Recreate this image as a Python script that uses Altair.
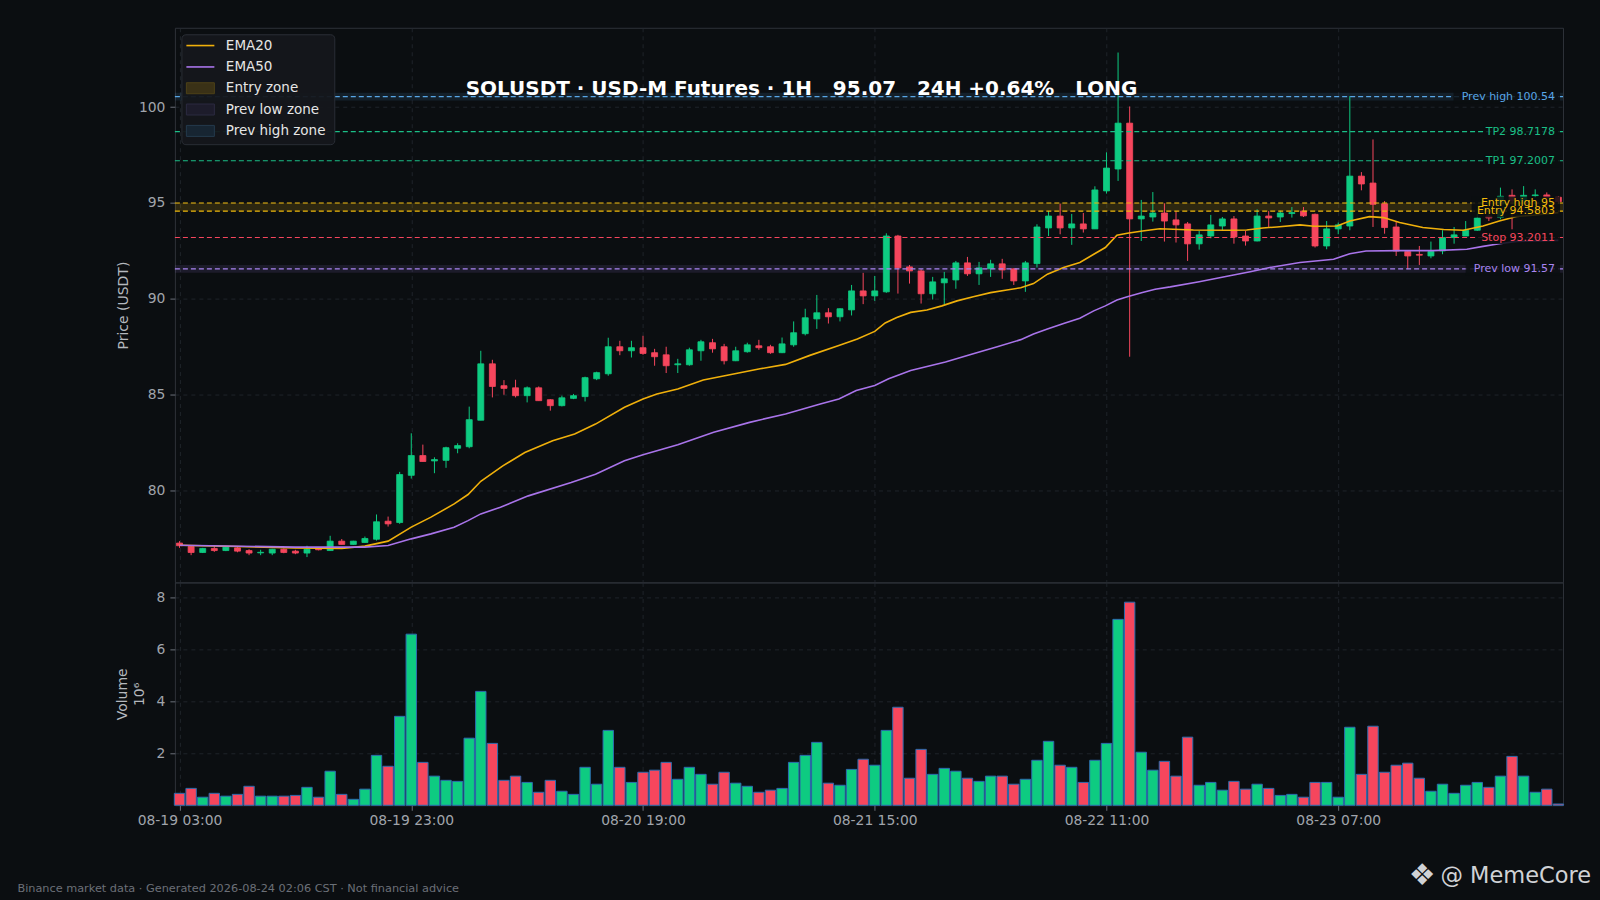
import altair as alt
import pandas as pd
import jinja2

# ---------------- data ----------------
hours = list(range(120))  # hours since 08-19 03:00
opens = [77.28, 77.10, 76.79, 77.00, 76.89, 77.03, 76.89, 76.77, 76.76, 76.96,
         76.86, 76.76, 76.98, 76.89, 77.38, 77.21, 77.31, 77.48, 78.42, 78.35,
         80.81, 81.84, 81.56, 81.59, 82.22, 82.30, 83.68, 86.62, 85.48, 85.37,
         84.96, 85.37, 84.75, 84.44, 84.82, 84.91, 85.84, 86.10, 87.51, 87.30,
         87.46, 87.20, 87.09, 86.57, 86.57, 87.30, 87.72, 87.51, 86.78, 87.25,
         87.56, 87.51, 87.20, 87.61, 88.19, 88.96, 89.28, 89.07, 89.43, 90.42,
         90.16, 90.37, 93.28, 91.67, 91.46, 90.27, 90.84, 90.99, 91.88, 91.31,
         91.57, 91.83, 91.57, 90.94, 91.84, 93.70, 94.32, 93.70, 93.91, 93.65,
         95.63, 96.77, 99.16, 94.17, 94.27, 94.48, 94.12, 93.91, 92.87, 93.28,
         93.80, 94.17, 93.28, 93.02, 94.32, 94.27, 94.45, 94.58, 94.41, 92.76,
         93.65, 93.80, 96.40, 96.04, 94.96, 93.75, 92.47, 92.32, 92.24, 92.50,
         93.20, 93.28, 93.58, 94.32, 94.25, 95.40, 95.10, 95.38, 95.42, 95.30]
highs = [77.38, 77.14, 77.03, 77.14, 77.14, 77.07, 76.96, 76.93, 76.98, 77.00,
         76.93, 77.14, 77.02, 77.66, 77.49, 77.40, 77.62, 78.77, 78.66, 80.99,
         83.00, 82.41, 81.75, 82.30, 82.48, 84.39, 87.30, 86.83, 85.77, 85.79,
         85.44, 85.44, 84.78, 84.96, 85.05, 85.95, 86.21, 87.98, 87.82, 87.82,
         88.08, 87.40, 87.51, 86.88, 87.46, 87.87, 87.92, 87.66, 87.51, 87.72,
         87.87, 87.61, 87.99, 88.83, 89.49, 90.21, 89.52, 89.51, 90.73, 91.36,
         91.20, 93.42, 93.34, 91.77, 91.55, 91.15, 91.41, 91.98, 92.19, 91.93,
         92.04, 92.09, 91.60, 91.98, 93.89, 94.58, 94.96, 94.43, 94.48, 95.87,
         97.64, 102.84, 100.03, 95.16, 95.57, 94.98, 94.58, 94.01, 93.54, 94.38,
         94.27, 94.32, 93.54, 94.67, 94.58, 94.60, 94.79, 94.79, 94.45, 94.06,
         93.98, 100.57, 96.61, 98.31, 95.10, 94.03, 92.50, 92.76, 92.99, 93.58,
         93.75, 94.06, 94.45, 94.40, 95.80, 95.71, 95.88, 95.71, 95.55, 95.35]
lows = [77.03, 76.65, 76.76, 76.82, 76.86, 76.80, 76.65, 76.65, 76.65, 76.75,
        76.70, 76.55, 76.90, 76.89, 77.21, 77.19, 77.30, 77.41, 78.14, 78.28,
        80.64, 81.53, 80.92, 81.20, 81.96, 82.22, 83.68, 84.87, 85.01, 84.87,
        84.61, 84.70, 84.18, 84.40, 84.78, 84.66, 85.77, 86.00, 87.07, 86.95,
        87.09, 86.52, 86.14, 86.14, 86.52, 86.78, 87.20, 86.59, 86.76, 87.20,
        87.35, 87.14, 87.18, 87.51, 88.10, 88.44, 88.72, 88.83, 89.14, 89.73,
        89.90, 90.32, 90.28, 90.80, 89.76, 89.97, 89.73, 90.53, 91.20, 90.73,
        91.15, 91.05, 90.73, 90.37, 91.64, 93.28, 93.37, 92.82, 93.46, 93.65,
        95.49, 96.15, 86.99, 93.02, 94.03, 92.99, 92.94, 91.98, 92.57, 93.16,
        93.58, 92.88, 92.78, 93.00, 93.75, 94.01, 94.24, 94.27, 92.68, 92.59,
        93.37, 93.58, 95.66, 93.75, 93.40, 92.24, 91.55, 91.77, 92.12, 92.33,
        92.88, 93.28, 93.55, 94.06, 94.15, 93.63, 94.93, 95.28, 95.19, 94.95]
closes = [77.14, 76.79, 77.00, 76.89, 77.07, 76.86, 76.76, 76.80, 76.96, 76.79,
          76.76, 76.96, 76.93, 77.38, 77.21, 77.38, 77.52, 78.39, 78.28, 80.85,
          81.84, 81.53, 81.63, 82.25, 82.36, 83.71, 86.62, 85.44, 85.34, 84.96,
          85.37, 84.70, 84.44, 84.85, 84.96, 85.90, 86.16, 87.51, 87.30, 87.46,
          87.16, 86.99, 86.52, 86.62, 87.35, 87.77, 87.40, 86.78, 87.30, 87.61,
          87.46, 87.20, 87.66, 88.24, 89.02, 89.28, 89.07, 89.49, 90.42, 90.16,
          90.42, 93.28, 91.62, 91.46, 90.27, 90.89, 91.05, 91.88, 91.31, 91.62,
          91.83, 91.51, 90.94, 91.88, 93.75, 94.32, 93.70, 93.91, 93.65, 95.68,
          96.82, 99.16, 94.17, 94.32, 94.48, 94.06, 93.86, 92.87, 93.34, 93.86,
          94.17, 93.23, 93.02, 94.32, 94.22, 94.48, 94.50, 94.33, 92.76, 93.65,
          93.86, 96.40, 95.99, 94.93, 93.72, 92.50, 92.24, 92.28, 92.47, 93.20,
          93.34, 93.58, 94.22, 94.22, 95.35, 95.10, 95.40, 95.42, 95.30, 95.07]
volumes_m = [0.46, 0.65, 0.31, 0.46, 0.35, 0.42, 0.73, 0.35, 0.35, 0.35,
             0.38, 0.69, 0.31, 1.31, 0.42, 0.23, 0.62, 1.92, 1.50, 3.42,
             6.58, 1.65, 1.12, 0.96, 0.92, 2.58, 4.38, 2.38, 0.96, 1.12,
             0.88, 0.50, 0.96, 0.54, 0.42, 1.46, 0.81, 2.88, 1.46, 0.88,
             1.27, 1.35, 1.65, 1.00, 1.46, 1.19, 0.81, 1.27, 0.85, 0.73,
             0.50, 0.58, 0.65, 1.65, 1.92, 2.42, 0.85, 0.77, 1.38, 1.77,
             1.54, 2.88, 3.77, 1.04, 2.15, 1.19, 1.42, 1.31, 1.04, 0.92,
             1.12, 1.12, 0.81, 1.00, 1.73, 2.46, 1.54, 1.46, 0.88, 1.73,
             2.38, 7.15, 7.81, 2.04, 1.35, 1.69, 1.12, 2.62, 0.77, 0.88,
             0.58, 0.92, 0.62, 0.81, 0.65, 0.38, 0.42, 0.31, 0.88, 0.88,
             0.31, 3.00, 1.19, 3.04, 1.27, 1.54, 1.62, 1.04, 0.54, 0.81,
             0.46, 0.77, 0.88, 0.69, 1.12, 1.88, 1.12, 0.50, 0.62, 0.05]

tick_hours = [0, 20, 40, 60, 80, 100]
tick_labels = ["08-19 03:00", "08-19 23:00", "08-20 19:00",
               "08-21 15:00", "08-22 11:00", "08-23 07:00"]

ema20_hours = [0, 5, 10, 14, 16, 18, 20, 21.7, 23.7, 24.9, 26, 27.9, 29.8, 32.2, 34.1,
               35.9, 38.4, 40, 41.2, 43, 45.2, 47.6, 50.1, 52.3, 54.4, 56.9, 58.5, 60,
               60.9, 61.9, 63.1, 64.5, 65.8, 67.1, 68.5, 70, 71.4, 72.6, 73.7, 74.9,
               76.3, 77.7, 78.9, 79.9, 80.9, 81.8, 83.1, 84.6, 87.5, 90.4, 92.1, 93.5,
               94.7, 96.7, 97.9, 99.9, 101, 102.7, 103.9, 105.3, 107.3, 109.1, 110.8,
               112.5, 113.9, 115.4, 116.8, 119]
ema20_values = [77.17, 77.10, 77.02, 77.00, 77.12, 77.38, 78.11, 78.63, 79.32, 79.81,
                80.50, 81.30, 82.00, 82.61, 82.96, 83.48, 84.36, 84.79, 85.05, 85.31,
                85.78, 86.06, 86.36, 86.59, 87.06, 87.58, 87.91, 88.31, 88.75, 89.03,
                89.30, 89.42, 89.64, 89.90, 90.11, 90.33, 90.47, 90.58, 90.80, 91.29,
                91.64, 91.90, 92.33, 92.68, 93.32, 93.42, 93.54, 93.66, 93.59, 93.58,
                93.59, 93.70, 93.75, 93.86, 93.79, 93.80, 94.06, 94.29, 94.24, 93.98,
                93.72, 93.62, 93.58, 93.80, 94.06, 94.30, 94.36, 94.50]
ema50_hours = [0, 10, 16, 18, 20, 21.7, 23.7, 24.9, 26, 27.7, 30.1, 33.8, 35.9, 38.4,
               40, 43, 46.1, 49.2, 52.3, 55.3, 56.9, 58.4, 60, 61.2, 63.1, 66.1, 68.5,
               70.5, 72.6, 73.7, 74.9, 76.3, 77.7, 78.9, 79.9, 80.9, 81.8, 83.1, 84.2,
               85.5, 88, 90.3, 92.4, 94.1, 96.7, 99.6, 101, 102.4, 105.3, 108.2, 111.1,
               112.5, 113.9, 115.4, 119]
ema50_values = [77.17, 77.07, 77.07, 77.15, 77.50, 77.76, 78.11, 78.45, 78.80, 79.15,
                79.74, 80.44, 80.87, 81.57, 81.88, 82.40, 83.05, 83.57, 84.01, 84.53,
                84.79, 85.23, 85.49, 85.84, 86.27, 86.71, 87.15, 87.50, 87.88, 88.17,
                88.43, 88.72, 89.00, 89.38, 89.64, 89.94, 90.11, 90.34, 90.51, 90.63,
                90.90, 91.17, 91.42, 91.64, 91.90, 92.07, 92.36, 92.50, 92.52, 92.52,
                92.59, 92.74, 92.88, 93.00, 93.05]

level_labels = ["Prev high 100.54", "TP2 98.7178", "TP1 97.2007", "Entry high 95",
                "Entry 94.5803", "Stop 93.2011", "Prev low 91.57"]
level_values = [100.54, 98.7178, 97.2007, 95.0, 94.5803, 93.2011, 91.57]

zone_names = ["Entry zone", "Prev low zone", "Prev high zone"]
zone_low = [94.5803, 91.37, 100.34]
zone_high = [95.0, 91.77, 100.74]

legend_labels = ["EMA20", "EMA50", "Entry zone", "Prev low zone", "Prev high zone"]

NB = "\u00a0"
title_text = f"SOLUSDT · USD-M Futures · 1H{NB}{NB} 95.07{NB}{NB} 24H +0.64%{NB}{NB} LONG"
footer_text = "Binance market data · Generated 2026-08-24 02:06 CST · Not financial advice"
brand_text = "@ MemeCore"
brand_icon = "\u2756"

# ---------------- style ----------------
BG = "#0b0e11"
UP = "#0ecb81"
DOWN = "#f6465d"
EMA20_C = "#f0b00b"
EMA50_C = "#a974ea"
level_colors = ["#58a6e6", "#1bbf87", "#1bbf87", "#f0b90b", "#f0b90b", "#f6465d", "#a985f2"]
zone_colors = ["#f0b90b", "#a985f2", "#58a6e6"]
zone_opac = [0.15, 0.11, 0.12]
legend_swatch_fill = ["#3a3116", "#1d1c2b", "#172532"]
legend_swatch_edge = ["#4d4118", "#2b2a40", "#243a4c"]
FONT = "DejaVu Sans"

W = 1389
H1 = 555
H2 = 223

# ---------------- build ----------------
df = pd.DataFrame({"h": hours, "o": opens, "hi": highs, "lo": lows, "c": closes, "vol": volumes_m})
df["dir"] = ["up" if c >= o else "down" for o, c in zip(opens, closes)]

xscale = alt.Scale(domain=[-0.4, 119.4], nice=False, zero=False, padding=0)
yscale = alt.Scale(domain=[75.23, 104.13], nice=False, zero=False, padding=0)
vscale = alt.Scale(domain=[0, 8.57], nice=False, zero=False, padding=0)
dir_scale = alt.Scale(domain=["up", "down"], range=[UP, DOWN])

label_expr = "".join(f"datum.value == {h} ? '{t}' : " for h, t in zip(tick_hours, tick_labels)) + "''"

x_axis_top = alt.Axis(values=tick_hours, labels=False, ticks=False, domain=False, grid=True, title=None)
x_axis_bottom = alt.Axis(values=tick_hours, labelExpr=label_expr, grid=True, domain=False,
                         title=None, tickSize=5, labelPadding=3, labelFlush=False)
y_axis_price = alt.Axis(values=[80, 85, 90, 95, 100], title="Price (USDT)", grid=True, domain=False,
                        tickSize=5, labelPadding=5, minExtent=36, maxExtent=36, titlePadding=8)
y_axis_vol = alt.Axis(values=[2, 4, 6, 8], title=["Volume", "10⁶"], grid=True, domain=False,
                      tickSize=5, labelPadding=5, minExtent=20, maxExtent=20, titlePadding=8,
                      titleLineHeight=17)

X = alt.X("h:Q", scale=xscale, axis=x_axis_top)


def one():
    return alt.Data(values=[{"k": 0}])


zone_df = pd.DataFrame({"name": zone_names, "lo": zone_low, "hi": zone_high,
                        "col": zone_colors, "op": zone_opac})
zones = alt.Chart(zone_df).mark_rect().encode(
    x=alt.value(0), x2=alt.value(W),
    y=alt.Y("lo:Q", scale=yscale, axis=y_axis_price), y2="hi:Q",
    color=alt.Color("col:N", scale=None),
    opacity=alt.Opacity("op:Q", scale=None),
)

wicks = alt.Chart(df).mark_rule(strokeWidth=1).encode(
    x=X, y=alt.Y("lo:Q", scale=yscale, axis=y_axis_price), y2="hi:Q",
    color=alt.Color("dir:N", scale=dir_scale, legend=None),
)
bodies = alt.Chart(df).mark_bar(size=6, strokeWidth=0.8).encode(
    x=X, y=alt.Y("o:Q", scale=yscale, axis=y_axis_price), y2="c:Q",
    color=alt.Color("dir:N", scale=dir_scale, legend=None),
    stroke=alt.Stroke("dir:N", scale=dir_scale, legend=None),
)

ema20_df = pd.DataFrame({"h": ema20_hours, "v": ema20_values})
ema50_df = pd.DataFrame({"h": ema50_hours, "v": ema50_values})
ema20 = alt.Chart(ema20_df).mark_line(color=EMA20_C, strokeWidth=1.6).encode(
    x=X, y=alt.Y("v:Q", scale=yscale, axis=y_axis_price))
ema50 = alt.Chart(ema50_df).mark_line(color=EMA50_C, strokeWidth=1.6).encode(
    x=X, y=alt.Y("v:Q", scale=yscale, axis=y_axis_price))

level_df = pd.DataFrame({"name": level_labels, "v": level_values, "col": level_colors})
levels = alt.Chart(level_df).mark_rule(strokeDash=[5, 3], strokeWidth=1.2).encode(
    x=alt.value(0), x2=alt.value(W),
    y=alt.Y("v:Q", scale=yscale, axis=y_axis_price),
    color=alt.Color("col:N", scale=None),
)

label_layers = []
for name, v in zip(level_labels, level_values):
    box_w = len(name) * 6.1 + 8
    d = pd.DataFrame({"lo": [v - 0.34], "hi": [v + 0.34]})
    label_layers.append(
        alt.Chart(d).mark_rect(color=BG, opacity=0.85).encode(
            x=alt.value(W - 4 - box_w), x2=alt.value(W - 3),
            y=alt.Y("lo:Q", scale=yscale, axis=y_axis_price), y2="hi:Q")
    )
label_text = alt.Chart(level_df).mark_text(align="right", baseline="middle", fontSize=11, font=FONT).encode(
    x=alt.value(W - 8),
    y=alt.Y("v:Q", scale=yscale, axis=y_axis_price),
    text="name:N",
    color=alt.Color("col:N", scale=None),
)

title_mark = alt.Chart(one()).mark_text(
    align="center", baseline="middle", fontSize=20, fontWeight="bold", font=FONT, color="#ffffff"
).encode(x=alt.value(627), y=alt.value(61), text=alt.value(title_text))

# legend (drawn manually)
legend_layers = [
    alt.Chart(one()).mark_rect(fill="#15171c", stroke="#2c3038", strokeWidth=1, cornerRadius=4,
                               opacity=0.95).encode(
        x=alt.value(7), x2=alt.value(160), y=alt.value(7), y2=alt.value(117))
]
row_y = [17.8, 39.2, 60.5, 81.8, 103.2]
for k, lab in enumerate(legend_labels):
    yy = row_y[k]
    if k == 0 or k == 1:
        legend_layers.append(
            alt.Chart(one()).mark_rule(color=[EMA20_C, EMA50_C][k], strokeWidth=1.6).encode(
                x=alt.value(11.5), x2=alt.value(39.5), y=alt.value(yy)))
    else:
        j = k - 2
        legend_layers.append(
            alt.Chart(one()).mark_rect(fill=legend_swatch_fill[j], stroke=legend_swatch_edge[j],
                                       strokeWidth=1).encode(
                x=alt.value(11.5), x2=alt.value(39.5), y=alt.value(yy - 5.5), y2=alt.value(yy + 5.5)))
    legend_layers.append(
        alt.Chart(one()).mark_text(align="left", baseline="middle", fontSize=13.5, font=FONT,
                                   color="#e6e6e6").encode(
            x=alt.value(51), y=alt.value(yy), text=alt.value(lab)))

price = alt.layer(
    zones, wicks, bodies, ema20, ema50, levels, *label_layers, label_text, title_mark, *legend_layers
).properties(width=W, height=H1)

vol_bars = alt.Chart(df).mark_bar(size=10.4, stroke="#2c6cb0", strokeWidth=1).encode(
    x=alt.X("h:Q", scale=xscale, axis=x_axis_bottom),
    y=alt.Y("vol:Q", scale=vscale, axis=y_axis_vol),
    color=alt.Color("dir:N", scale=dir_scale, legend=None),
)
footer = alt.Chart(one()).mark_text(align="left", baseline="middle", fontSize=11.3, font=FONT,
                                    color="#6b7078").encode(
    x=alt.value(-157.6), y=alt.value(307), text=alt.value(footer_text))
brand = alt.Chart(one()).mark_text(align="right", baseline="middle", fontSize=22.5, font=FONT,
                                   color="#d0d2d6").encode(
    x=alt.value(1417), y=alt.value(293.5), text=alt.value(brand_text))
icon = alt.Chart(one()).mark_text(align="center", baseline="middle", fontSize=30, font=FONT,
                                  color="#d0d2d6").encode(
    x=alt.value(1248), y=alt.value(293.5), text=alt.value(brand_icon))

volume = alt.layer(vol_bars, footer, brand, icon).properties(width=W, height=H2)

chart = alt.vconcat(price, volume, spacing=0, bounds="flush").properties(
    background=BG,
    padding={"left": 8, "top": 18.5, "right": 0, "bottom": 4},
).configure_view(
    stroke="#2e3239", strokeWidth=1
).configure_axis(
    labelColor="#a0a4ab", labelFont=FONT, labelFontSize=13.9,
    titleColor="#b4b8be", titleFont=FONT, titleFontSize=14, titleFontWeight="normal",
    gridColor="#252a31", gridDash=[4, 4], gridWidth=0.8, tickColor="#6b7079",
).configure_text(font=FONT)

# page template identical to the standard one, with the page body painted in the chart colour
DARK_TEMPLATE = jinja2.Template("""<!DOCTYPE html>
<html>
<head>
  <meta charset="utf-8">
  <style>
    body { background: #0b0e11; }
    #{{ output_div }}.vega-embed { width: 100%; display: flex; }
    #{{ output_div }}.vega-embed details,
    #{{ output_div }}.vega-embed details summary { position: relative; }
  </style>
  <script type="text/javascript" src="{{ base_url }}/vega@{{ vega_version }}"></script>
  <script type="text/javascript" src="{{ base_url }}/vega-lite@{{ vegalite_version }}"></script>
  <script type="text/javascript" src="{{ base_url }}/vega-embed@{{ vegaembed_version }}"></script>
</head>
<body>
  <div id="{{ output_div }}"></div>
  <script>
    (function(vegaEmbed) {
      var spec = {{ spec }};
      var embedOpt = {{ embed_options }};
      function showError(el, error){
        el.innerHTML = ('<div style="color:red;"><p>JavaScript Error: ' + error.message + '</p></div>');
        throw error;
      }
      const el = document.getElementById('{{ output_div }}');
      vegaEmbed("#{{ output_div }}", spec, embedOpt).catch(error => showError(el, error));
    })(vegaEmbed);
  </script>
</body>
</html>
""")

try:
    chart.save("out.html", embed_options={"renderer": "svg", "actions": False}, template=DARK_TEMPLATE)
except Exception:
    chart.save("out.html", embed_options={"renderer": "svg", "actions": False})
